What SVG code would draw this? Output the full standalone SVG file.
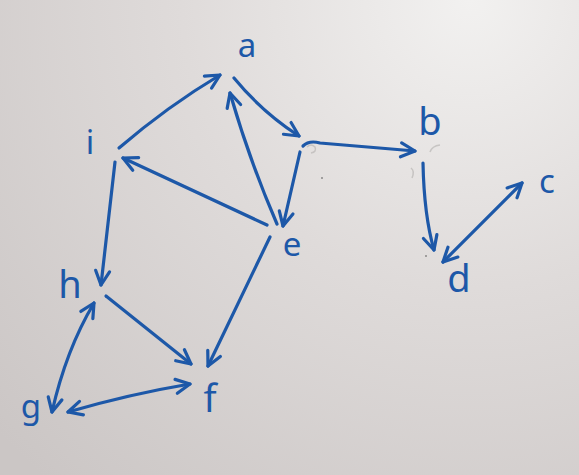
<svg xmlns="http://www.w3.org/2000/svg" width="579" height="475" viewBox="0 0 579 475">
<defs>
<radialGradient id="bg" cx="470" cy="0" r="640" gradientUnits="userSpaceOnUse">
<stop offset="0" stop-color="#f2f1f0"/>
<stop offset="0.45" stop-color="#dfdbda"/>
<stop offset="1" stop-color="#cbc6c5"/>
</radialGradient>
<marker id="ah" viewBox="-16 -10 20 20" markerWidth="20" markerHeight="20" refX="0" refY="0" orient="auto-start-reverse" markerUnits="userSpaceOnUse">
<path d="M-14,-7 L0,0 L-14,7" fill="none" stroke="#1d58a8" stroke-width="3.2" stroke-linecap="round" stroke-linejoin="round"/>
</marker>
<style>
.e{fill:none;stroke:#1d58a8;stroke-width:3.2;stroke-linecap:round;stroke-linejoin:round}
.end{marker-end:url(#ah)}
.both{marker-start:url(#ah);marker-end:url(#ah)}
.lb{font-family:"Noto Sans","DejaVu Sans",sans-serif;fill:#1d58a8;text-anchor:middle}
.s{font-size:33px}
.t{font-size:38px}
.smudge{fill:none;stroke:#b9b6b5;stroke-width:1.5;opacity:0.7}
</style>
</defs>
<rect width="579" height="475" fill="url(#bg)"/>
<g id="erased">
<path class="smudge" d="M307,147 q4,-4 8,0 q2,5 -4,6"/>
<path class="smudge" d="M430,152 q2,-6 10,-7"/>
<path class="smudge" d="M411,168 q4,3 1,10"/>
<circle cx="322" cy="178" r="1" fill="#8a8888"/>
<circle cx="426" cy="256" r="1" fill="#8a8888"/>
</g>
<g id="connectors">
<path class="e end" d="M119,148 Q168,106 220,75"/>
<path class="e end" d="M234,78 Q262,112 299,136"/>
<path class="e end" d="M303,146 Q309,140 320,143 L415,151"/>
<path class="e end" d="M300,152 L283,226"/>
<path class="e end" d="M277,224 Q250,162 230,93"/>
<path class="e end" d="M267,225 L123,158"/>
<path class="e end" d="M115,162 L101,285"/>
<path class="e end" d="M106,296 L191,364"/>
<path class="e end" d="M270,237 L208,366"/>
<path class="e both" d="M52,412 Q66,350 94,303"/>
<path class="e both" d="M68,412 Q130,394 190,384"/>
<path class="e end" d="M423,163 Q424,215 434,250"/>
<path class="e both" d="M443,262 L522,183"/>
</g>
<g id="node-a"><text class="lb s" x="247" y="57">a</text></g>
<g id="node-b"><text class="lb t" x="430" y="135">b</text></g>
<g id="node-c"><text class="lb s" x="547" y="193">c</text></g>
<g id="node-d"><text class="lb t" x="459" y="292">d</text></g>
<g id="node-e"><text class="lb s" x="292" y="256">e</text></g>
<g id="node-f"><text class="lb t" x="210" y="412">f</text></g>
<g id="node-g"><text class="lb s" x="31" y="418">g</text></g>
<g id="node-h"><text class="lb t" x="70" y="298">h</text></g>
<g id="node-i"><text class="lb s" x="90" y="154">i</text></g>
</svg>
